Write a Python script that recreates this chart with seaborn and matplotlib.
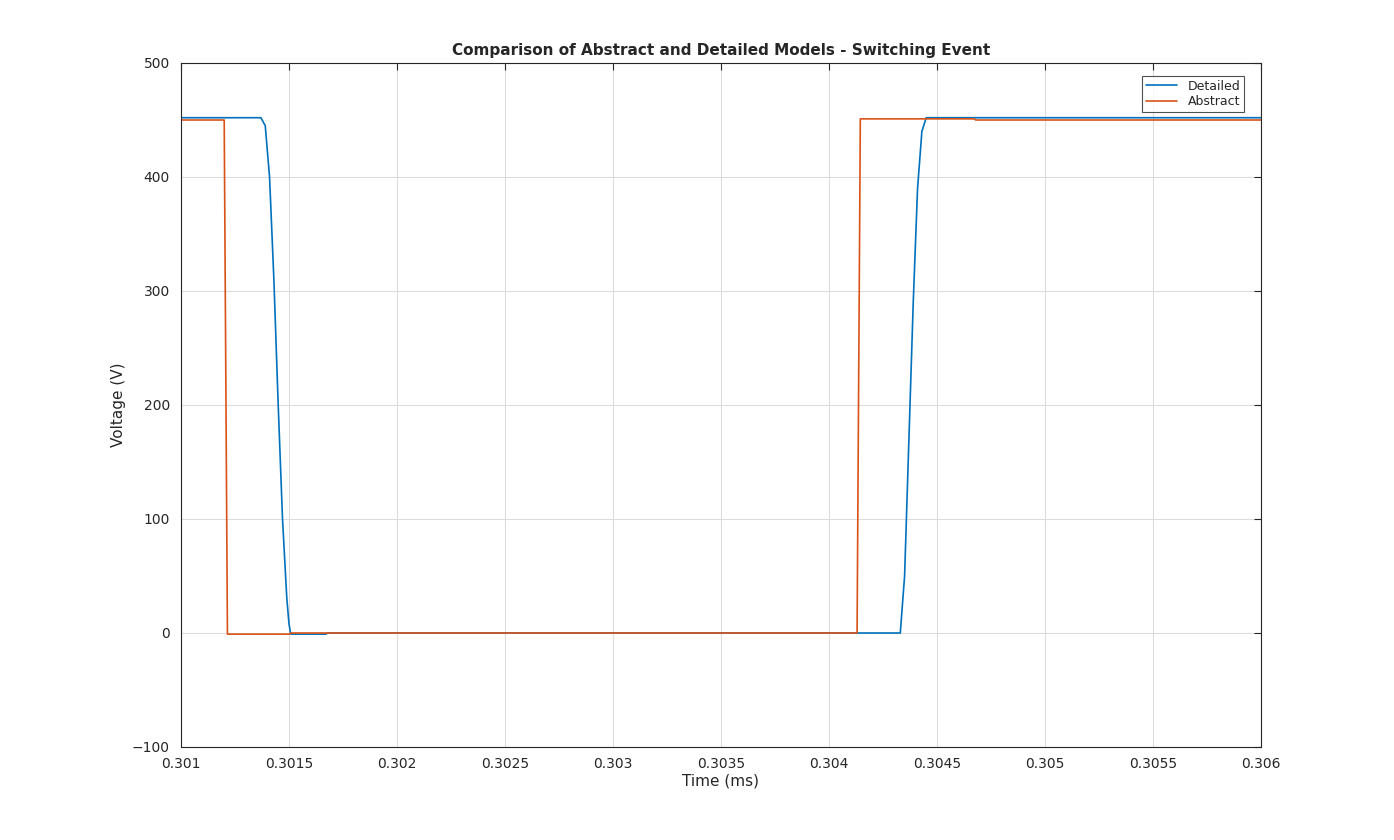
import matplotlib
matplotlib.use("Agg")
import matplotlib.pyplot as plt
import seaborn as sns
import pandas as pd

det_t = [0.3010, 0.30137, 0.30139, 0.30141, 0.30143, 0.30145, 0.30147, 0.30149, 0.30150, 0.301508, 0.30167, 0.30168,
         0.30432, 0.30433, 0.30435, 0.30437, 0.30439, 0.30441, 0.30443, 0.30445, 0.3060]
det_v = [452, 452, 445, 400, 310, 200, 100, 30, 8, -1, -1, 0,
         0, 0, 50, 170, 290, 390, 440, 452, 452]
abs_t = [0.3010, 0.30120, 0.301215, 0.30150, 0.30151, 0.30413, 0.304145, 0.30467, 0.30468, 0.3060]
abs_v = [450, 450, -1, -1, 0, 0, 451, 451, 450, 450]

sns.set_style("white")
plt.rcParams['font.family'] = ['DejaVu Sans']
fig = plt.figure(figsize=(13.94, 8.40), dpi=100)
ax = fig.add_axes([181/1394, 1-747/840, 1080/1394, 684/840])
df = pd.concat([pd.DataFrame({"t": det_t, "v": det_v, "s": "Detailed"}),
                pd.DataFrame({"t": abs_t, "v": abs_v, "s": "Abstract"})])
sns.lineplot(data=df, x="t", y="v", hue="s", palette=["#0072BD", "#D95319"],
             ax=ax, linewidth=1.2, sort=False, estimator=None)
ax.set_xlim(0.301, 0.306)
ax.set_ylim(-100, 500)
ax.set_xticks([0.301 + 0.0005*i for i in range(11)])
ax.set_xticklabels(["0.301", "0.3015", "0.302", "0.3025", "0.303", "0.3035", "0.304", "0.3045", "0.305", "0.3055", "0.306"])
ax.set_yticks(range(-100, 501, 100))
ax.grid(True, color="#dcdcdc", linewidth=0.8)
ax.tick_params(direction="in", top=True, right=True, labelsize=10, length=5)
ax.tick_params(axis="x", pad=7)
ax.tick_params(axis="y", pad=8)
for s in ax.spines.values():
    s.set_color("#262626"); s.set_linewidth(0.8)
ax.set_xlabel("Time (ms)", fontsize=11, labelpad=2)
ax.set_ylabel("Voltage (V)", fontsize=11)
ax.set_title("Comparison of Abstract and Detailed Models - Switching Event", fontsize=11, fontweight="bold")
leg = ax.legend(loc="upper right", fontsize=9, frameon=True, fancybox=False, edgecolor="#262626",
                handlelength=2.5, borderpad=0.3, labelspacing=0.2, bbox_to_anchor=(0.99, 0.99))
leg.get_frame().set_linewidth(0.8)
fig.savefig("out.png", dpi=100)
